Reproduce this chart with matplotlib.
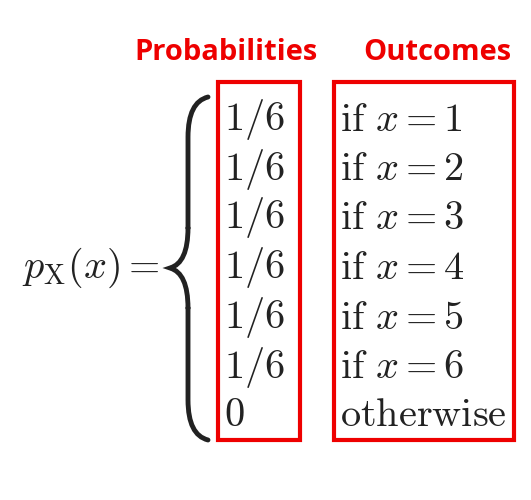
import matplotlib
matplotlib.use("Agg")
import matplotlib.pyplot as plt
from matplotlib.path import Path
from matplotlib.patches import PathPatch, Rectangle

plt.rcParams['mathtext.fontset'] = 'cm'

probabilities = [r"$\mathrm{1/6}$"] * 6 + [r"$\mathrm{0}$"]
outcomes = [r"$\mathrm{if}\ x = 1$", r"$\mathrm{if}\ x = 2$", r"$\mathrm{if}\ x = 3$",
            r"$\mathrm{if}\ x = 4$", r"$\mathrm{if}\ x = 5$", r"$\mathrm{if}\ x = 6$",
            r"$\mathrm{otherwise}$"]
headers = ["Probabilities", "Outcomes"]

fig = plt.figure(figsize=(5.31, 5.0), dpi=100)
ax = fig.add_axes([0, 0, 1, 1])
ax.set_xlim(0, 531); ax.set_ylim(500, 0); ax.axis('off')

ax.text(22, 268, r"$p_{\mathrm{X}}(x) =$", fontsize=29, va='center', ha='left', color='#222')

# brace
xm, xt, yc, y0, y1 = 170, 208, 268, 97, 440
verts = [(xt, y0), (188, y0+5), (188, y0+40), (188, yc-40),
         (188, yc-40), (188, yc-5), (xm, yc), (188, yc+5), (188, yc+40),
         (188, yc+40), (188, y1-40), (188, y1-5), (xt, y1)]
codes = [Path.MOVETO, Path.CURVE3, Path.CURVE3, Path.LINETO,
         Path.MOVETO, Path.CURVE3, Path.CURVE3, Path.CURVE3, Path.CURVE3,
         Path.MOVETO, Path.LINETO, Path.CURVE3, Path.CURVE3]
ax.add_patch(PathPatch(Path(verts, codes), fill=False, lw=3.5, color='#222', capstyle='round'))

ys = [120, 169, 218, 268, 318, 367, 415]
for y, p, o in zip(ys, probabilities, outcomes):
    ax.text(224, y, p, fontsize=29, va='center', ha='left', color='#222')
    ax.text(340, y, o, fontsize=29, va='center', ha='left', color='#222')

ax.add_patch(Rectangle((218, 82), 82, 358, fill=False, ec='#ee0000', lw=3))
ax.add_patch(Rectangle((334, 82), 180, 358, fill=False, ec='#ee0000', lw=3))
ax.text(226, 52, headers[0], fontsize=21, fontweight='bold', color='#ee0000', ha='center', va='center', family='Open Sans')
ax.text(437, 52, headers[1], fontsize=21, fontweight='bold', color='#ee0000', ha='center', va='center', family='Open Sans')

fig.savefig("out.png", dpi=100)
